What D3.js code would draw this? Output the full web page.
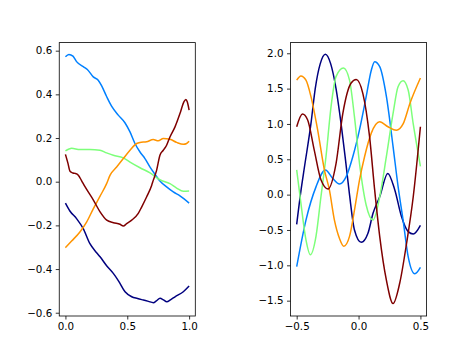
<!DOCTYPE html>
<html>
<head>
<meta charset="utf-8">
<script src="https://cdn.jsdelivr.net/npm/d3@7"></script>
<style>
html,body{margin:0;padding:0;background:#fff;}
svg{display:block;}
text{font-family:"DejaVu Sans",sans-serif;font-size:10.3px;fill:#000;}
</style>
</head>
<body>
<svg id="chart" width="474" height="355"></svg>
<script>
// ---------- Left panel data (x in [0,1]) ----------
const lineColors = ["#00007f", "#0080ff", "#7dff7a", "#ff9400", "#7f0000"];

const leftNavyX = [0, 0.036, 0.09, 0.144, 0.198, 0.252, 0.28, 0.333, 0.387, 0.43, 0.482, 0.536, 0.583, 0.63, 0.671, 0.711, 0.735, 0.765, 0.792, 0.819, 0.852, 0.886, 0.953, 1.0];
const leftNavyY = [-0.098, -0.134, -0.169, -0.215, -0.284, -0.325, -0.344, -0.385, -0.42, -0.455, -0.504, -0.527, -0.535, -0.542, -0.548, -0.554, -0.546, -0.534, -0.541, -0.55, -0.54, -0.527, -0.504, -0.478];

const leftBlueX = [0, 0.028, 0.061, 0.09, 0.144, 0.177, 0.225, 0.265, 0.292, 0.333, 0.373, 0.427, 0.481, 0.522, 0.562, 0.603, 0.643, 0.684, 0.724, 0.764, 0.818, 0.872, 0.926, 1.0];
const leftBlueY = [0.572, 0.583, 0.575, 0.55, 0.527, 0.514, 0.48, 0.465, 0.44, 0.39, 0.346, 0.305, 0.27, 0.228, 0.175, 0.136, 0.106, 0.067, 0.034, 0.003, -0.024, -0.047, -0.065, -0.098];

const leftGreenX = [0, 0.05, 0.117, 0.198, 0.279, 0.333, 0.387, 0.468, 0.522, 0.603, 0.684, 0.764, 0.845, 0.899, 0.953, 1.0];
const leftGreenY = [0.141, 0.153, 0.147, 0.147, 0.144, 0.132, 0.121, 0.109, 0.09, 0.064, 0.04, 0.009, -0.009, -0.029, -0.044, -0.043];

const leftOrangeX = [0, 0.05, 0.117, 0.171, 0.225, 0.279, 0.333, 0.36, 0.414, 0.468, 0.522, 0.576, 0.603, 0.656, 0.71, 0.751, 0.791, 0.845, 0.899, 0.953, 0.98, 1.0];
const leftOrangeY = [-0.302, -0.272, -0.23, -0.185, -0.124, -0.067, -0.009, 0.029, 0.067, 0.106, 0.144, 0.175, 0.18, 0.183, 0.193, 0.187, 0.198, 0.194, 0.18, 0.171, 0.175, 0.185];

const leftRedX = [0, 0.02, 0.037, 0.06, 0.078, 0.104, 0.13, 0.158, 0.226, 0.28, 0.334, 0.388, 0.441, 0.468, 0.495, 0.536, 0.589, 0.616, 0.656, 0.697, 0.71, 0.737, 0.764, 0.791, 0.818, 0.845, 0.886, 0.926, 0.958, 0.974, 0.985, 1.0];
const leftRedY = [0.125, 0.085, 0.048, 0.04, 0.038, 0.03, 0.005, -0.023, -0.084, -0.138, -0.176, -0.188, -0.195, -0.203, -0.192, -0.176, -0.145, -0.116, -0.07, -0.017, 0.006, 0.052, 0.121, 0.144, 0.167, 0.205, 0.251, 0.312, 0.366, 0.377, 0.366, 0.328];

// ---------- Right panel data (x in [-0.5,0.5]) ----------
const rightNavyX = [-0.5, -0.466, -0.439, -0.385, -0.35, -0.31, -0.268, -0.225, -0.182, -0.141, -0.106, -0.073, -0.033, 0.022, 0.076, 0.117, 0.171, 0.236, 0.293, 0.347, 0.401, 0.442, 0.5];
const rightNavyY = [-0.42, 0.05, 0.37, 1.0, 1.5, 1.85, 1.986, 1.85, 1.5, 1.0, 0.5, 0.0, -0.5, -0.675, -0.547, -0.264, -0.03, 0.30, 0.066, -0.31, -0.524, -0.557, -0.434];

const rightBlueX = [-0.5, -0.425, -0.344, -0.268, -0.209, -0.154, -0.1, -0.046, 0.008, 0.062, 0.103, 0.13, 0.171, 0.225, 0.279, 0.32, 0.36, 0.401, 0.455, 0.5];
const rightBlueY = [-1.02, -0.36, 0.11, 0.35, 0.23, 0.15, 0.255, 0.54, 0.92, 1.39, 1.76, 1.88, 1.81, 1.39, 0.68, 0.11, -0.36, -0.877, -1.12, -1.03];

const rightGreenX = [-0.5, -0.466, -0.425, -0.39, -0.344, -0.304, -0.263, -0.222, -0.182, -0.122, -0.073, -0.033, 0.008, 0.062, 0.117, 0.171, 0.225, 0.279, 0.32, 0.36, 0.401, 0.442, 0.5];
const rightGreenY = [0.35, -0.12, -0.64, -0.85, -0.59, -0.03, 0.54, 1.25, 1.67, 1.79, 1.62, 1.10, 0.44, -0.15, -0.36, -0.03, 0.54, 1.15, 1.53, 1.61, 1.48, 1.0, 0.40];

const rightOrangeX = [-0.5, -0.466, -0.425, -0.385, -0.331, -0.276, -0.236, -0.195, -0.154, -0.119, -0.073, -0.033, 0.008, 0.049, 0.103, 0.171, 0.238, 0.306, 0.36, 0.415, 0.5];
const rightOrangeY = [1.62, 1.68, 1.62, 1.39, 0.92, 0.35, 0.07, -0.36, -0.62, -0.73, -0.59, -0.22, 0.21, 0.54, 0.87, 1.03, 0.96, 0.91, 1.0, 1.29, 1.65];

const rightRedX = [-0.5, -0.453, -0.412, -0.358, -0.304, -0.247, -0.182, -0.127, -0.06, -0.019, 0.035, 0.089, 0.13, 0.171, 0.225, 0.279, 0.333, 0.388, 0.442, 0.5];
const rightRedY = [0.96, 1.14, 1.06, 0.63, 0.21, 0.08, 0.44, 1.15, 1.58, 1.63, 1.43, 0.82, 0.07, -0.59, -1.21, -1.54, -1.25, -0.69, -0.03, 0.96];

// ---------- Tick values ----------
const leftXTicks = [0.0, 0.5, 1.0];
const leftYTicks = [-0.6, -0.4, -0.2, 0.0, 0.2, 0.4, 0.6];
const rightXTicks = [-0.5, 0.0, 0.5];
const rightYTicks = [-1.5, -1.0, -0.5, 0.0, 0.5, 1.0, 1.5, 2.0];

const leftSeries = [
  [leftNavyX, leftNavyY], [leftBlueX, leftBlueY], [leftGreenX, leftGreenY],
  [leftOrangeX, leftOrangeY], [leftRedX, leftRedY]
];
const rightSeries = [
  [rightNavyX, rightNavyY], [rightBlueX, rightBlueY], [rightGreenX, rightGreenY],
  [rightOrangeX, rightOrangeY], [rightRedX, rightRedY]
];

const svg = d3.select("#chart");
const plotTop = 42.6, plotBottom = 316.0;
const fmt = d3.format(".1f");

function panel(left, right, xDom, yDom, xTicks, yTicks, series) {
  const x = d3.scaleLinear().domain(xDom).range([left, right]);
  const y = d3.scaleLinear().domain(yDom).range([plotBottom, plotTop]);
  const g = svg.append("g");
  const clipId = "clip" + Math.round(left);
  g.append("clipPath").attr("id", clipId).append("rect")
    .attr("x", left).attr("y", plotTop).attr("width", right - left).attr("height", plotBottom - plotTop);
  const line = d3.line().x(d => x(d[0])).y(d => y(d[1])).curve(d3.curveMonotoneX);
  series.forEach((s, i) => {
    const pts = s[0].map((xv, j) => [xv, s[1][j]]);
    g.append("path").attr("d", line(pts)).attr("fill", "none")
      .attr("stroke", lineColors[i]).attr("stroke-width", 1.5)
      .attr("stroke-linejoin", "round").attr("stroke-linecap", "butt")
      .attr("clip-path", `url(#${clipId})`);
  });
  const xAxis = d3.axisBottom(x).tickValues(xTicks).tickFormat(fmt).tickSize(3.5).tickPadding(3.5);
  const yAxis = d3.axisLeft(y).tickValues(yTicks).tickFormat(fmt).tickSize(3.5).tickPadding(3.5);
  const gx = g.append("g").attr("transform", `translate(0,${plotBottom})`).call(xAxis);
  const gy = g.append("g").attr("transform", `translate(${left},0)`).call(yAxis);
  [gx, gy].forEach(a => {
    a.select(".domain").remove();
    a.selectAll(".tick line").attr("stroke", "#000").attr("stroke-width", 0.8);
    a.selectAll(".tick text").style("font-family", "DejaVu Sans").style("font-size", "10.3px").attr("fill", "#000");
  });
  g.append("rect").attr("x", left).attr("y", plotTop).attr("width", right - left).attr("height", plotBottom - plotTop)
    .attr("fill", "none").attr("stroke", "#000").attr("stroke-width", 0.8);
}

panel(59.25, 195.3, [-0.05, 1.05], [-0.615, 0.637], leftXTicks, leftYTicks, leftSeries);
panel(290.5, 426.6, [-0.55, 0.55], [-1.717, 2.151], rightXTicks, rightYTicks, rightSeries);
</script>
</body>
</html>
